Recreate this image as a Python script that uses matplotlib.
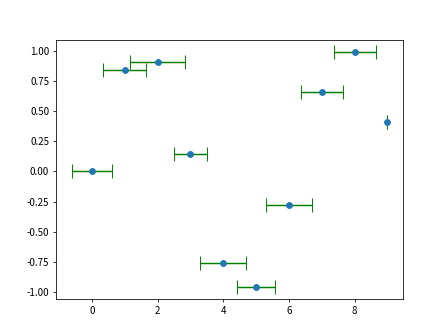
import numpy as np
import matplotlib
matplotlib.use("Agg")
import matplotlib.pyplot as plt

plt.rcParams['font.family'] = ['Noto Sans CJK SC', 'DejaVu Sans']
plt.rcParams['axes.unicode_minus'] = False

x = [0, 1, 2, 3, 4, 5, 6, 7, 8, 9]
y = [0.0, 0.841, 0.909, 0.141, -0.757, -0.959, -0.279, 0.657, 0.989, 0.412]
xerr = [0.61, 0.66, 0.84, 0.51, 0.70, 0.59, 0.69, 0.64, 0.64, 0.0]

fig = plt.figure(figsize=(6.4, 4.8), dpi=70)
plt.errorbar(x, y, xerr=xerr, fmt='o', ecolor='g', capsize=7)
fig.savefig("out.png")
